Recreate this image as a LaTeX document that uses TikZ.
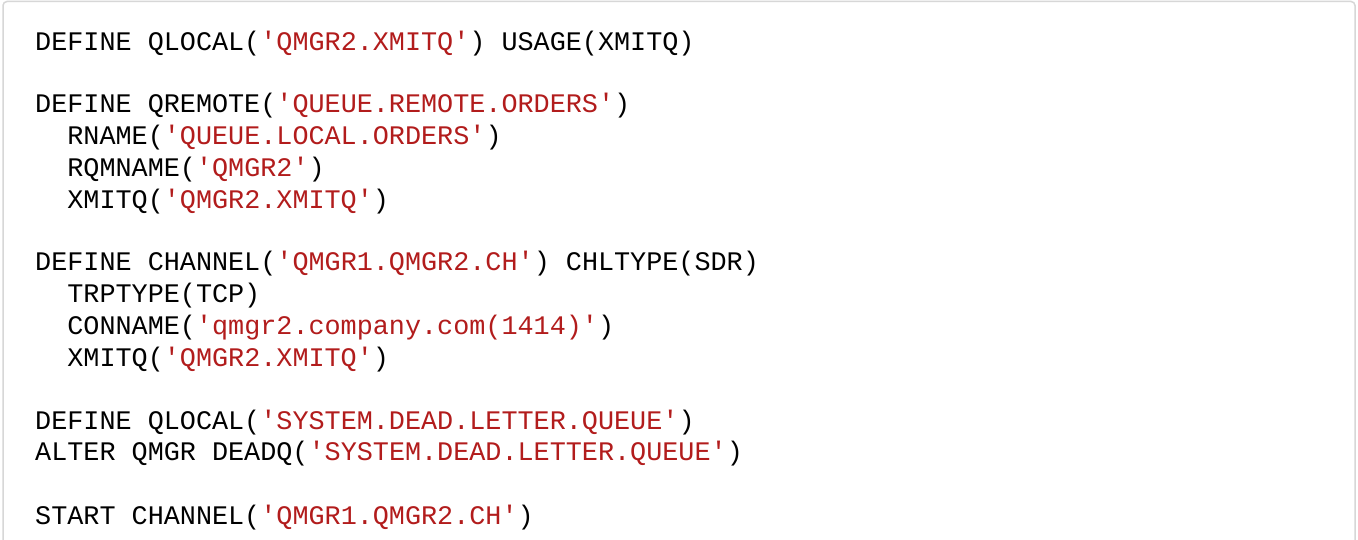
\documentclass[tikz,border=0pt]{standalone}
\usepackage{fontspec}
\setmonofont{Liberation Mono}
\definecolor{strred}{RGB}{178,28,28}
\definecolor{frame}{RGB}{215,215,215}
\begin{document}
\begin{tikzpicture}[x=1pt,y=-1pt,
  codeline/.style={anchor=base west,inner sep=0pt,font=\ttfamily\fontsize{26.8}{30}\selectfont}]
\useasboundingbox (0,0) rectangle (1358,540);
\fill[white] (0,0) rectangle (1358,540);
\draw[frame,line width=1.5pt,rounded corners=4pt] (3,1.5) -- (1355,1.5) -- (1355,560) -- (3,560) -- cycle;
\newcommand{\s}[1]{\textcolor{strred}{'#1'}}
\node[codeline] (l1) at (35,51) {DEFINE QLOCAL(\s{QMGR2.XMITQ}) USAGE(XMITQ)};
\node[codeline] (l2) at (35,113) {DEFINE QREMOTE(\s{QUEUE.REMOTE.ORDERS})};
\node[codeline] (l3) at (35,144.7) {\ \ RNAME(\s{QUEUE.LOCAL.ORDERS})};
\node[codeline] (l4) at (35,176.4) {\ \ RQMNAME(\s{QMGR2})};
\node[codeline] (l5) at (35,208.1) {\ \ XMITQ(\s{QMGR2.XMITQ})};
\node[codeline] (l6) at (35,271) {DEFINE CHANNEL(\s{QMGR1.QMGR2.CH}) CHLTYPE(SDR)};
\node[codeline] (l7) at (35,302.7) {\ \ TRPTYPE(TCP)};
\node[codeline] (l8) at (35,334.4) {\ \ CONNAME(\s{qmgr2.company.com(1414)})};
\node[codeline] (l9) at (35,366.1) {\ \ XMITQ(\s{QMGR2.XMITQ})};
\node[codeline] (l10) at (35,429) {DEFINE QLOCAL(\s{SYSTEM.DEAD.LETTER.QUEUE})};
\node[codeline] (l11) at (35,460.7) {ALTER QMGR DEADQ(\s{SYSTEM.DEAD.LETTER.QUEUE})};
\node[codeline] (l12) at (35,524) {START CHANNEL(\s{QMGR1.QMGR2.CH})};
\end{tikzpicture}
\end{document}
